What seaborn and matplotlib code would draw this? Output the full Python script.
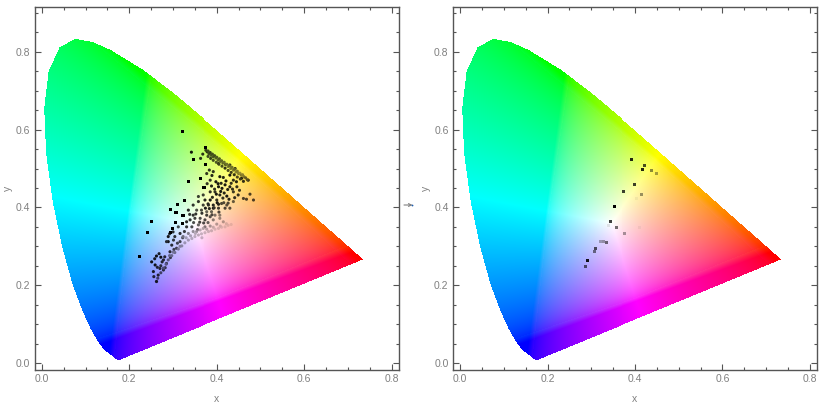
import matplotlib
matplotlib.use("Agg")
import matplotlib.pyplot as plt
from matplotlib.lines import Line2D
from matplotlib.patches import FancyArrowPatch
from matplotlib.path import Path
from matplotlib.ticker import MultipleLocator
import numpy as np
import seaborn as sns

# spectral locus (CIE 1931), closed by the line of purples
locus_x = [.1741, .1714, .1440, .1355, .1241, .1096, .0913, .0687, .0454, .0235, .0082, .0039, .0139, .0389, .0743,
           .1142, .1547, .2296, .3016, .3731, .4441, .5125, .5752, .6270, .6658, .6915, .7190, .7347]
locus_y = [.0050, .0051, .0297, .0399, .0578, .0868, .1327, .2007, .2950, .4127, .5384, .6548, .7502, .8120, .8338,
           .8262, .8059, .7543, .6923, .6245, .5547, .4866, .4242, .3725, .3340, .3083, .2809, .2653]

tick_labels = ["0.0", "0.2", "0.4", "0.6", "0.8"]

# left panel, isolated black squares
square_x = [.321, .374, .346, .374, .362, .335, .371, .326, .310, .294, .307, .323,
            .250, .305, .321, .298, .241, .294, .223]
square_y = [.596, .554, .524, .511, .475, .467, .452, .418, .408, .395, .387, .379,
            .364, .362, .359, .346, .336, .336, .274]

# left panel, olive band along the top
band_x = [.375, .378, .380, .382, .385, .387, .390, .392, .395, .398, .400, .403, .406, .408, .411, .414, .417,
          .420, .423, .426, .429, .432, .435, .438, .441, .444, .447, .450, .453, .456, .459, .462, .466, .470,
          .380, .386, .392, .399, .405, .412, .419, .426, .433, .440, .447, .454, .461]
band_y = [.547, .543, .545, .538, .541, .534, .537, .530, .533, .527, .529, .522, .525, .518, .520, .514, .516,
          .510, .511, .505, .507, .500, .503, .496, .498, .491, .493, .487, .488, .483, .484, .479, .476, .471,
          .531, .526, .521, .516, .511, .506, .501, .495, .490, .484, .478, .473, .467]
band_lum = [.25, .2, .3, .3, .25, .35, .3, .35, .3, .4, .35, .4, .35, .45, .4, .4, .45,
            .35, .45, .5, .4, .5, .45, .5, .4, .55, .5, .5, .6, .5, .55, .5, .4, .35,
            .3, .25, .3, .35, .25, .3, .2, .3, .25, .2, .3, .25, .2]

# left panel, dark cloud
cloud_x = [.342, .363, .368, .383, .392, .404, .430, .442, .407, .415, .430, .438, .457, .472, .419, .430, .446, .404,
           .385, .396, .407, .423, .438, .449, .476, .484, .461, .468, .385, .369, .358, .373, .385, .400, .411, .423,
           .438, .430, .419, .404, .392, .381, .369, .358, .346, .354, .335, .346, .365, .377, .388, .396, .407, .385,
           .373, .362, .350, .339, .331, .343, .331, .358, .373, .316, .304, .289, .301, .289, .316, .297, .308, .293,
           .281, .262, .272, .251, .278, .259, .270, .255, .266, .278, .285,
           .377, .389, .398, .410, .421, .433, .445, .395, .403, .412, .425, .436, .452, .378, .388, .399, .409, .417,
           .428, .441, .390, .401, .414, .426, .380, .392, .404, .416, .374, .383, .394, .405, .366, .377, .389, .352,
           .361, .370, .380, .338, .347, .356, .326, .312, .322, .300, .310, .292, .302, .285, .294, .268, .275, .258,
           .264, .256, .272, .282]
cloud_y = [.542, .526, .537, .496, .492, .513, .509, .500, .479, .477, .483, .470, .475, .470, .458, .453, .453, .453,
           .470, .440, .432, .429, .440, .432, .434, .419, .423, .421, .440, .432, .428, .419, .419, .419, .410, .406,
           .415, .398, .398, .398, .406, .406, .406, .415, .406, .393, .393, .380, .393, .389, .389, .380, .380, .376,
           .368, .372, .372, .368, .363, .350, .350, .355, .350, .333, .325, .325, .316, .312, .312, .303, .295, .286,
           .273, .275, .272, .260, .265, .252, .243, .235, .226, .239, .256,
           .487, .482, .466, .462, .468, .462, .466, .447, .461, .449, .446, .447, .444, .461, .455, .434, .441, .437,
           .421, .425, .426, .412, .424, .411, .409, .398, .408, .412, .398, .397, .399, .388, .385, .380, .381, .383,
           .362, .360, .361, .382, .361, .343, .338, .350, .322, .337, .308, .332, .292, .312, .271, .281, .260, .268,
           .246, .222, .250, .245]
cloud_lum = [.1, .2, .2, .2, .2, .2, .15, .2, .1, .15, .1, .2, .15, .15, .1, .15, .2, .1,
             .2, .2, .15, .1, .25, .2, .3, .3, .3, .3, .2, .25, .25, .15, .1, .2, .3, .35,
             .4, .35, .3, .25, .15, .2, .25, .2, .2, .3, .15, .2, .3, .4, .4, .5, .55, .35,
             .3, .3, .25, .2, .15, .3, .2, .4, .5, .2, .2, .1, .25, .1, .3, .2, .3, .2,
             .2, .1, .1, .1, .2, .1, .2, .15, .2, .25, .3,
             .2, .15, .1, .15, .1, .2, .15, .2, .1, .1, .15, .2, .25, .2, .15, .1, .1, .15,
             .15, .2, .15, .1, .2, .3, .15, .1, .15, .3, .1, .15, .2, .3, .2, .25, .3, .2,
             .25, .3, .4, .2, .3, .4, .25, .3, .35, .2, .3, .2, .3, .2, .3, .15, .2, .15,
             .2, .2, .25, .3]

# left panel, pale band underneath
pale_x = [.265, .272, .278, .284, .289, .297, .304, .312, .320, .327, .335, .343, .350, .358, .365, .373, .381, .388,
          .396, .404, .411, .419, .426, .433, .354, .369, .385, .400, .415, .392, .407, .335, .323, .346,
          .292, .300, .316, .330, .362, .377, .392, .408, .422, .340, .351, .366]
pale_y = [.218, .232, .244, .254, .265, .276, .284, .293, .301, .309, .316, .320, .325, .329, .332, .335, .338, .340,
          .344, .346, .349, .350, .354, .356, .338, .346, .352, .357, .363, .368, .372, .333, .325, .338,
          .276, .285, .300, .322, .342, .344, .349, .352, .358, .327, .333, .322]
pale_lum = [.4, .4, .45, .5, .5, .55, .55, .6, .65, .7, .7, .75, .75, .75, .78, .8, .8, .8,
            .85, .85, .88, .88, .88, .9, .6, .7, .65, .7, .7, .55, .6, .55, .5, .6,
            .55, .6, .62, .7, .72, .72, .78, .82, .85, .7, .72, .78]

# right panel
right_x = [.392, .422, .417, .438, .450, .399, .415, .374, .353, .403, .344, .339, .358, .410, .376, .321, .328, .335,
           .310, .307, .291, .287]
right_y = [.524, .508, .498, .495, .488, .459, .434, .441, .403, .423, .364, .354, .349, .349, .333, .313, .313, .310,
           .295, .287, .264, .248]
right_lum = [.15, .3, .15, .55, .65, .25, .6, .25, .0, .95, .25, .9, .45, .95, .65, .7, .65, .45,
             .35, .5, .1, .4]

prim = np.array([[.705, .282], [.236, .736], [.156, .055]])
white = np.array([.3457, .3585])


def xyz(x, y):
    x, y = np.asarray(x, float), np.asarray(y, float)
    return np.stack([x / y, np.ones_like(x), (1 - x - y) / y], axis=-1)


P = xyz(prim[:, 0], prim[:, 1]).T
M = np.linalg.inv(P * np.linalg.solve(P, xyz(white[0], white[1])))


def chroma_rgb(x, y):
    rgb = np.clip(xyz(x, y) @ M.T, 0, None)
    rgb = rgb / rgb.max(axis=-1, keepdims=True)
    # gamma with a long linear toe, keeps the ridges soft
    return np.where(rgb < .03, 7 * rgb, 1.075 * rgb ** (1 / 2.4) - .075)


def shaded(x, y, lum):
    return [tuple(c) for c in np.clip(chroma_rgb(x, y), 0, 1) * np.asarray(lum)[:, None]]


def points(ax, x, y, lum, marker, s):
    sns.scatterplot(x=x, y=y, hue=np.arange(len(x)), palette=shaded(x, y, lum), marker=marker, s=s,
                    linewidth=0, legend=False, ax=ax, zorder=3)


def gamut(ax):
    gx, gy = np.meshgrid(np.linspace(0, .74, 325), np.linspace(.002, .84, 326))
    inside = Path(np.column_stack([locus_x, locus_y])).contains_points(
        np.column_stack([gx.ravel(), gy.ravel()])).reshape(gx.shape)
    rgba = np.dstack([np.clip(chroma_rgb(gx, gy), 0, 1), inside.astype(float)])
    ax.imshow(rgba, origin="lower", extent=(0, .74, .002, .84), aspect="auto", interpolation="nearest", zorder=1)


def dress(ax):
    ax.set_xlim(-.0170, .8158)
    ax.set_ylim(-.018, .9165)
    ax.xaxis.set_major_locator(MultipleLocator(.2))
    ax.yaxis.set_major_locator(MultipleLocator(.2))
    ax.xaxis.set_minor_locator(MultipleLocator(.05))
    ax.yaxis.set_minor_locator(MultipleLocator(.05))
    ax.set_xticks([0, .2, .4, .6, .8], tick_labels)
    ax.set_yticks([0, .2, .4, .6, .8], tick_labels)
    ax.tick_params(which="major", direction="in", length=4, width=.8, color="#555555", top=True, right=True,
                   labelcolor="#808080", labelsize=7.5, pad=3)
    ax.tick_params(which="minor", direction="in", length=2, width=.8, color="#555555", top=True, right=True)
    ax.set_xlabel("x", color="#808080", fontsize=7.5, labelpad=7)
    ax.set_ylabel("y", color="#808080", fontsize=7.5, labelpad=2)
    for sp in ax.spines.values():
        sp.set_color("#555555")
        sp.set_linewidth(1)


sns.set_style("ticks")
plt.rcParams["font.family"] = ["Liberation Sans", "DejaVu Sans"]

W, H = 825, 407
fig = plt.figure(figsize=(W / 100, H / 100), dpi=100)
ax1 = fig.add_axes([34.5 / W, (H - 370) / H, 364 / W, 363.5 / H])
ax2 = fig.add_axes([452.7 / W, (H - 370) / H, 364 / W, 363.5 / H])

gamut(ax1)
points(ax1, cloud_x, cloud_y, cloud_lum, "o", 5)
points(ax1, pale_x, pale_y, pale_lum, "o", 5)
points(ax1, band_x, band_y, band_lum, "o", 5)
points(ax1, square_x, square_y, [0] * len(square_x), "s", 5.5)
points(ax1, [.262], [.212], [.15], "o", 5.5)
dress(ax1)

gamut(ax2)
points(ax2, right_x, right_y, right_lum, "s", 5.5)
dress(ax2)

# little arrow between the panels
fig.add_artist(FancyArrowPatch((404 / W, (H - 205) / H), (412.5 / W, (H - 205) / H), transform=fig.transFigure,
                               arrowstyle="->", mutation_scale=5, color="#808080", lw=.8, shrinkA=0, shrinkB=0))
fig.add_artist(Line2D([411.8 / W], [(H - 205) / H], marker="o", ms=1.3, mew=0, color="#1f5fb0"))

fig.savefig("out.png", dpi=100)
